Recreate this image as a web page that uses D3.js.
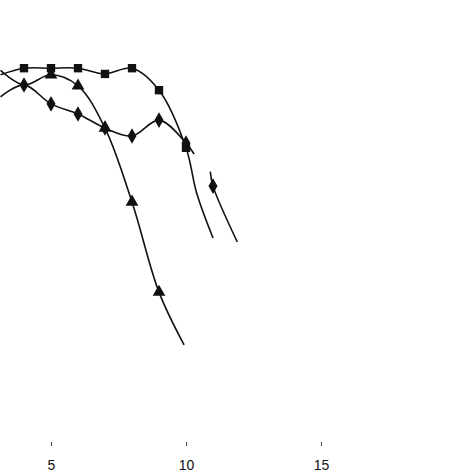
<!DOCTYPE html>
<html><head><meta charset="utf-8">
<script src="https://cdn.jsdelivr.net/npm/d3@7"></script>
<style>body{margin:0;background:#fff}</style></head>
<body><div id="chart"></div>
<script>
const xTicks = [5, 10, 15];
const squareX = [3.13, 4, 5, 6, 7, 8, 9, 10, 10.4, 11.0];
const squareY = [83, 84.5, 84.5, 84.5, 83.2, 84.5, 79.5, 66.4, 56, 45.9];
const triX = [3.13, 4, 5, 6, 7, 8, 9, 9.93];
const triY = [84, 80.7, 83, 80.5, 70.9, 54.1, 33.6, 21.6];
const diaX = [3.13, 4, 5, 6, 7, 8, 9, 10, 10.3];
const diaY = [78, 80.7, 76.4, 74.1, 70.9, 69.1, 72.7, 67.5, 65];
const dia2X = [10.9, 11, 11.9];
const dia2Y = [61, 57.7, 45];

const W = 474, H = 474;
const svg = d3.select('#chart').append('svg').attr('width', W).attr('height', H);
const x = d3.scaleLinear().domain([0, 15]).range([-84, 321]);
const y = d3.scaleLinear().domain([0, 100]).range([440, 0]);

const line = d3.line().x(d => x(d[0])).y(d => y(d[1])).curve(d3.curveCatmullRom);
const zip = (a, b) => a.map((v, i) => [v, b[i]]);

const series = [
  {pts: zip(squareX, squareY), sym: d3.symbolSquare, marks: [1, 2, 3, 4, 5, 6, 7]},
  {pts: zip(triX, triY), sym: d3.symbolTriangle, marks: [2, 3, 4, 5, 6]},
  {pts: zip(diaX, diaY), sym: d3.symbolDiamond, marks: [1, 2, 3, 4, 5, 6, 7]},
  {pts: zip(dia2X, dia2Y), sym: d3.symbolDiamond, marks: [1]}
];

series.forEach(s => {
  svg.append('path').attr('d', line(s.pts)).attr('fill', 'none')
    .attr('stroke', '#111').attr('stroke-width', 1.6);
  svg.selectAll(null).data(s.marks.map(i => s.pts[i])).enter().append('path')
    .attr('transform', d => `translate(${x(d[0])},${y(d[1])})`)
    .attr('d', d3.symbol().type(s.sym).size(70))
    .attr('fill', '#111');
});

const axis = d3.axisBottom(x).tickValues(xTicks).tickSize(4).tickPadding(14);
const g = svg.append('g').attr('transform', 'translate(0,442)').call(axis);
g.select('.domain').remove();
g.selectAll('text').attr('font-size', 14).attr('font-family', 'Liberation Sans, Arial').attr('fill', '#111');
g.selectAll('line').attr('stroke', '#444');
</script></body></html>
